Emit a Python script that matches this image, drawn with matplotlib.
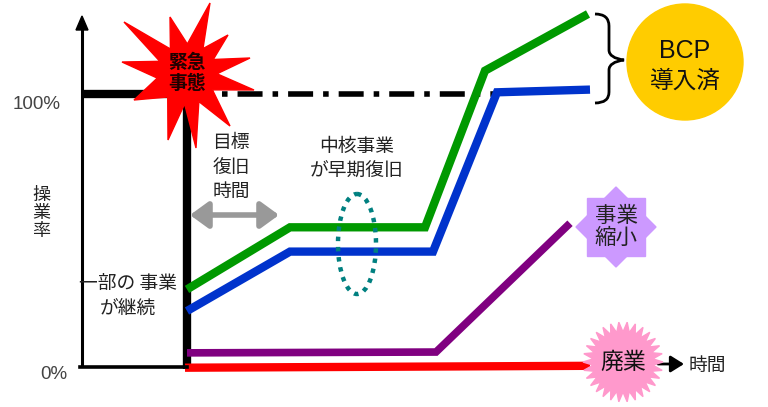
import numpy as np
import matplotlib
matplotlib.use("Agg")
import matplotlib.pyplot as plt
from matplotlib.patches import Polygon, Circle, Ellipse, FancyArrowPatch, PathPatch
from matplotlib.path import Path

plt.rcParams['font.family'] = ['Noto Sans CJK JP', 'DejaVu Sans']

# --- データ (x: 時間, y: 操業率 %) ---
event_t = 187
green_t = [187, 290, 425, 485, 588]
green_rate = [28, 51, 51, 109, 130]
blue_t = [187, 290, 433, 497, 590]
blue_rate = [20, 42, 42, 101, 102]
purple_t = [187, 436, 570]
purple_rate = [4.5, 4.8, 52.5]
red_t = [185, 590]
red_rate = [-1, -0.3]
before_t = [82, 187]
before_rate = [100.5, 100.5]
target_t = [187, 498]
target_rate = [100.5, 100.5]
tick_rates = [100, 0]
tick_labels = ["100%", "0%"]

W, H = 768, 407
fig = plt.figure(figsize=(W / 100, H / 100), dpi=100)

# データ用の軸 (0% -> 365px, 100% -> 95px)
px_per = 2.7
dax = fig.add_axes([0, 0, 1, 1], zorder=1)
dax.set_xlim(0, W)
dax.set_ylim((365 - H) / px_per, 365 / px_per)
dax.axis('off')

# 装飾用の軸(ピクセル座標), データの上に重ねる
ax = fig.add_axes([0, 0, 1, 1], zorder=2)
ax.set_xlim(0, W)
ax.set_ylim(H, 0)
ax.axis('off')
ax.patch.set_alpha(0)

# 縦軸
ax.plot([82, 82], [367, 28], color='black', lw=2.2, solid_capstyle='butt', zorder=1)
ax.add_patch(Polygon([[76, 30], [88, 30], [82, 16]], closed=True, color='black'))
ax.plot([80, 187], [367, 367], color='black', lw=2.6, zorder=1)

# 事業継続の線
dax.plot(target_t, target_rate, color='black', lw=4, dashes=(4.5, 1.8, 1, 1.8))
dax.plot(before_t, before_rate, color='black', lw=6, solid_capstyle='butt')
dax.plot([event_t, event_t], [100.5, -1.5], color='black', lw=6, solid_capstyle='butt')

dax.plot(red_t, red_rate, color='#FF0000', lw=6, solid_capstyle='butt')
dax.plot(purple_t, purple_rate, color='#800080', lw=5.5, solid_joinstyle='miter', solid_capstyle='butt')
dax.plot(blue_t, blue_rate, color='#0033CC', lw=6, solid_joinstyle='miter', solid_capstyle='butt')
dax.plot(green_t, green_rate, color='#009900', lw=6, solid_joinstyle='miter', solid_capstyle='butt')

for r, lab, xr in zip(tick_rates, tick_labels, [61, 67]):
    dax.text(xr, r - 3.5, lab, ha='right', va='center', fontsize=13.5, color='#444444',
             family=['Liberation Sans'])

ax.text(41, 213, "操\n業\n率", ha='center', va='center', fontsize=13, linespacing=1.0,
        color='#222222')

# 緊急事態の爆発マーク
tips = [(210, 3), (228, 35), (250, 58), (254, 90), (230, 126), (196, 148),
        (168, 140), (134, 100), (122, 62), (124, 22), (170, 17)]
cx, cy = 187, 74
pts = []
for i, (tx, ty) in enumerate(tips):
    nx, ny = tips[(i + 1) % len(tips)]
    pts.append((tx, ty))
    a1 = np.arctan2(ty - cy, tx - cx)
    a2 = np.arctan2(ny - cy, nx - cx)
    da = (a2 - a1 + np.pi) % (2 * np.pi) - np.pi
    am = a1 + da / 2
    pts.append((cx + 30 * np.cos(am), cy + 30 * np.sin(am)))
ax.add_patch(Polygon(pts, closed=True, color='#FF0000', zorder=5))
ax.text(187, 73, "緊急\n事態", ha='center', va='center', fontsize=13.5,
        fontweight='bold', color='#200000', linespacing=1.15, zorder=6)

# 目標復旧時間
ax.text(231, 167, "目標\n復旧\n時間", ha='center', va='center', fontsize=13.5,
        color='#222222', linespacing=1.2)
ax.add_patch(FancyArrowPatch((190, 215), (279, 215), arrowstyle='<|-|>,head_length=11,head_width=8',
                             color='#999999', lw=4, mutation_scale=1, shrinkA=0, shrinkB=0))

# 中核事業が早期復旧
ax.text(357, 159, "中核事業\nが早期復旧", ha='center', va='center', fontsize=13.5,
        color='#222222', linespacing=1.2)
ax.add_patch(Ellipse((357, 244), 38, 100, fill=False, edgecolor='#008080', lw=3.2,
                     linestyle=(0, (1, 1.3)), zorder=7))

# 一部の事業が継続
ax.text(128, 296, "一部の 事業\nが継続", ha='center', va='center', fontsize=13.5,
        color='#222222', linespacing=1.2)

# BCP導入済
brace = Path([(578, 14), (592, 14), (592, 26), (592, 50), (592, 58), (607, 60),
              (592, 62), (592, 70), (592, 92), (592, 103), (578, 103)],
             [Path.MOVETO, Path.CURVE3, Path.CURVE3, Path.LINETO, Path.CURVE3, Path.CURVE3,
              Path.CURVE3, Path.CURVE3, Path.LINETO, Path.CURVE3, Path.CURVE3])
bt = matplotlib.transforms.Affine2D().translate(17, 0) + ax.transData
ax.add_patch(PathPatch(brace, fill=False, lw=2, color='black', transform=bt))
ax.add_patch(Circle((685, 62), 58, color='#FFCC00'))
ax.text(685, 51, "BCP", ha='center', va='center', fontsize=18, color='#111111',
        family=['Liberation Sans'])
ax.text(685, 81, "導入済", ha='center', va='center', fontsize=17, color='#111111')

# 事業縮小
ax.add_patch(Polygon([[587, 198], [645, 198], [645, 256], [587, 256]], closed=True, color='#CC99FF', zorder=5))
ax.add_patch(Polygon([[616, 187], [656, 227], [616, 267], [576, 227]], closed=True, color='#CC99FF', zorder=5))
ax.text(616, 227, "事業\n縮小", ha='center', va='center', fontsize=15.5, color='#222222',
        linespacing=1.05, zorder=6)

# 廃業
n = 30
ang = np.linspace(0, 2 * np.pi, 2 * n, endpoint=False)
rad = np.where(np.arange(2 * n) % 2 == 0, 40, 30)
ax.add_patch(Polygon(np.c_[623 + rad * np.cos(ang), 362 + rad * np.sin(ang)], closed=True,
                     color='#FF99CC', zorder=5))
ax.text(623, 362, "廃業", ha='center', va='center', fontsize=16.5, color='#111111', zorder=6)
ax.add_patch(FancyArrowPatch((658, 364), (684, 364), arrowstyle='-|>,head_length=8,head_width=5',
                             color='black', lw=2, mutation_scale=1, shrinkA=0, shrinkB=0))
ax.text(707, 365, "時間", ha='center', va='center', fontsize=13.5, color='#222222')

fig.savefig("out.png", dpi=100)
